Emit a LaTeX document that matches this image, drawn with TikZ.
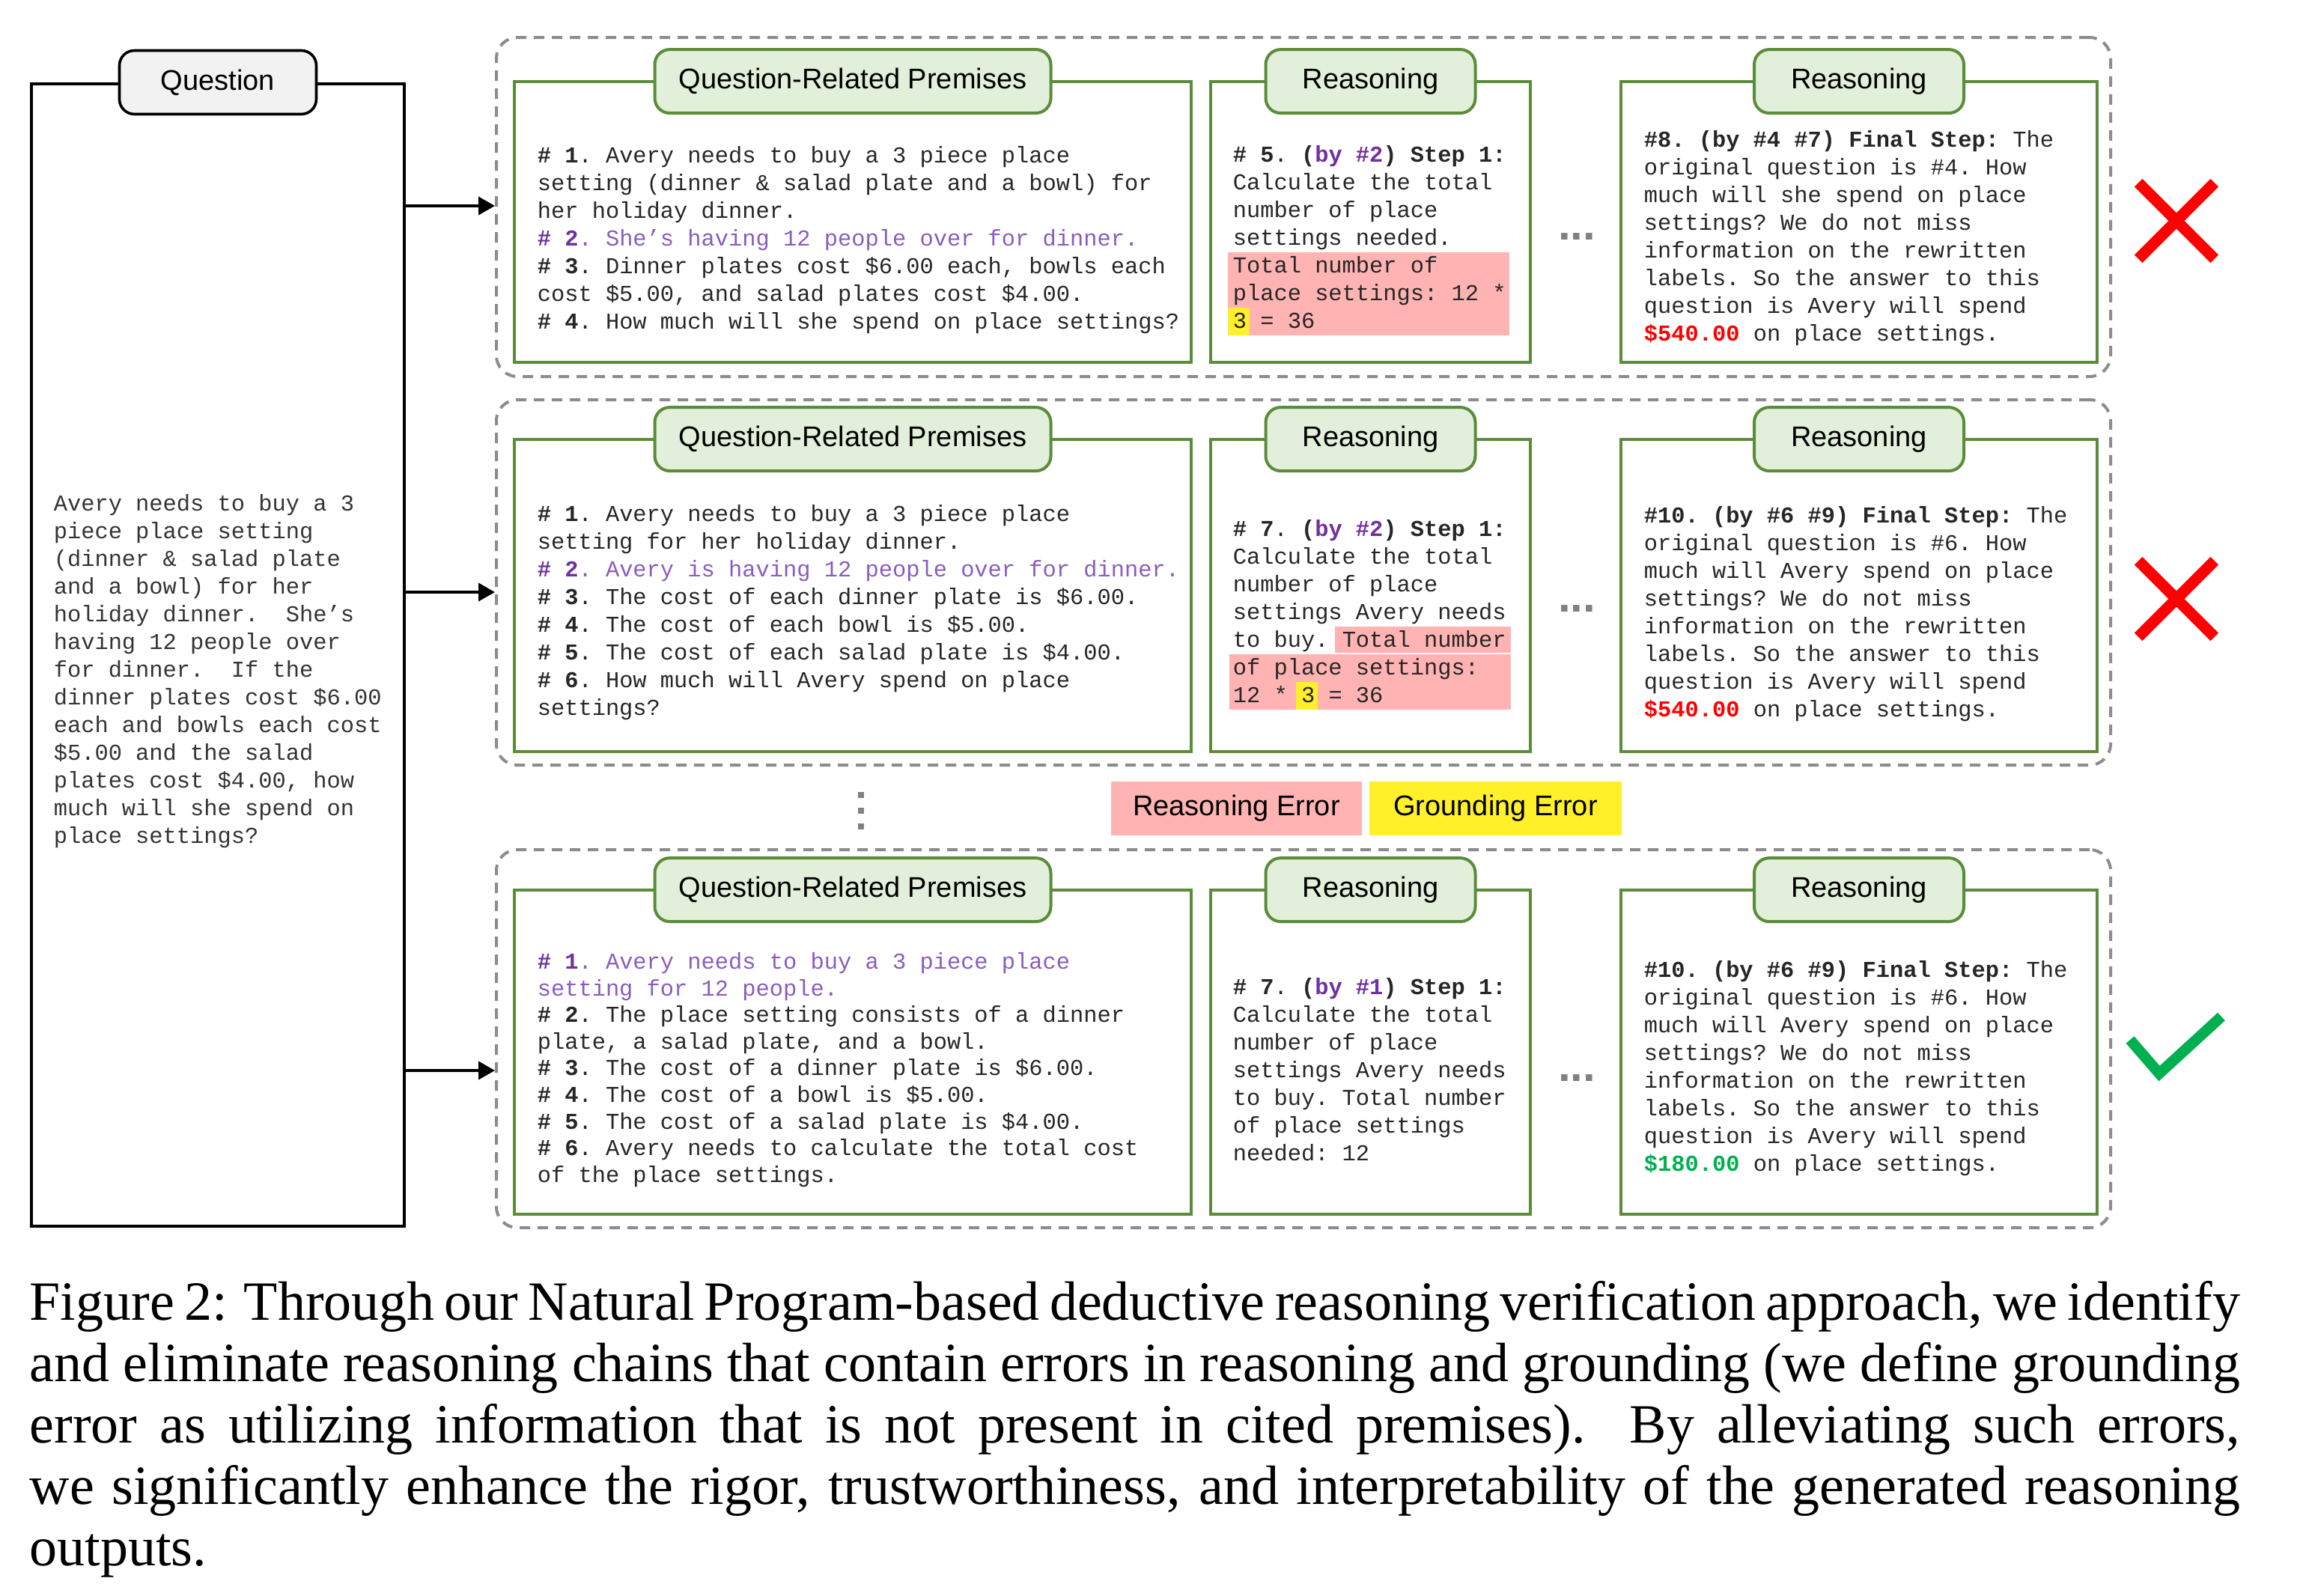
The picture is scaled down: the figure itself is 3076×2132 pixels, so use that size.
\documentclass[tikz,border=0pt]{standalone}
\usepackage{fontspec}
\setmainfont{Liberation Serif}
\setsansfont{Liberation Sans}
\setmonofont{Liberation Mono}
\usetikzlibrary{arrows.meta,calc}
\definecolor{grn}{HTML}{5B8C3A}
\definecolor{grnfill}{HTML}{E2EFDA}
\definecolor{qfill}{HTML}{F2F2F2}
\definecolor{dashgray}{HTML}{8C8C8C}
\definecolor{pinkhl}{HTML}{FFB3B3}
\definecolor{yelhl}{HTML}{FFF02A}
\definecolor{purp}{HTML}{7030A0}
\definecolor{purpl}{HTML}{8A5CBE}
\definecolor{okgreen}{HTML}{00B050}
\definecolor{badred}{HTML}{FF0000}
\definecolor{dotgray}{HTML}{808080}
\newcommand{\hlpink}[4]{\makebox[0pt][l]{\hspace*{#1}\textcolor{pinkhl}{\rule[#4]{#2}{#3}}}}
\newcommand{\hlyel}[1]{\makebox[0pt][l]{\hspace*{#1}\textcolor{yelhl}{\rule[-2.5pt]{7.25pt}{9.25pt}}}}
\newcommand{\pnum}[1]{\textbf{\#~#1}}
\newcommand{\byref}[1]{\textbf{(\textcolor{purp}{by \##1})}}
\newcommand{\bodyfont}{\ttfamily\fontsize{7.6pt}{9.25pt}\selectfont\lineskiplimit=-10pt\relax}
\newcommand{\bodyfonttight}{\ttfamily\fontsize{7.6pt}{8.9pt}\selectfont\lineskiplimit=-10pt\relax}
\newcommand{\labfont}{\sffamily\fontsize{9.5pt}{11pt}\selectfont}
\begin{document}
\begin{tikzpicture}[x=0.25pt, y=-0.25pt,
  grp/.style={draw=dashgray, line width=1pt, dash pattern=on 3.5pt off 2.5pt, rounded corners=7pt, inner sep=0},
  panel/.style={draw=grn, line width=1pt, inner sep=0},
  glabel/.style={draw=grn, fill=grnfill, line width=1pt, rounded corners=5pt, font=\labfont, minimum height=21.25pt, inner sep=0},
  qlabel/.style={draw=black, fill=qfill, line width=0.9pt, rounded corners=5pt, font=\labfont, minimum height=21.25pt, minimum width=65.75pt, inner sep=0},
  body/.style={anchor=west, align=left, inner sep=0, font=\bodyfont, text=black!85},
  arr/.style={line width=1pt, -{Triangle[length=5.5pt,width=6pt]}},
  legend/.style={font=\labfont, minimum height=18pt, inner sep=0},
  ellip/.style={font=\sffamily\bfseries\fontsize{15pt}{15pt}\selectfont, text=dotgray, inner sep=0},
  cross/.style={draw=badred, line width=3.75pt},
  tick/.style={draw=okgreen, line width=3.6pt, line join=miter}
]
\useasboundingbox (0,0) rectangle (3076,2132);

% Question box
\node[draw=black, line width=1pt, minimum width=124.5pt, minimum height=381.5pt, inner sep=0] (qbox) at (291,875) {};
\node[qlabel] (qlab) at (qbox.north) {Question};
\node[body, text=black!80] (qtxt) at (71,897) {Avery needs to buy a 3\\
piece place setting\\
(dinner \& salad plate\\
and a bowl) for her\\
holiday dinner.~~She’s\\
having 12 people over\\
for dinner.~~If the\\
dinner plates cost \$6.00\\
each and bowls each cost\\
\$5.00 and the salad\\
plates cost \$4.00, how\\
much will she spend on\\
place settings?};

% Groups
\node[grp, minimum width=539pt, minimum height=113.25pt] (g1) at (1741,276.5) {};
\node[grp, minimum width=539pt, minimum height=122pt] (g2) at (1741,778) {};
\node[grp, minimum width=539pt, minimum height=126.25pt] (g3) at (1741,1387.5) {};

% Arrows
\coordinate (a1) at (600,275);
\coordinate (a2) at (600,791);
\coordinate (a3) at (600,1430);
\draw[arr] (qbox.east |- a1) -- (g1.west |- a1);
\draw[arr] (qbox.east |- a2) -- (g2.west |- a2);
\draw[arr] (qbox.east |- a3) -- (g3.west |- a3);

% ---------- Group 1 ----------
\node[panel, minimum width=226pt, minimum height=93.75pt] (g1p) at (1139,296.5) {};
\node[panel, minimum width=106.75pt, minimum height=93.75pt] (g1r) at (1830.5,296.5) {};
\node[panel, minimum width=159pt, minimum height=93.75pt] (g1f) at (2483,296.5) {};
\node[glabel, minimum width=132.25pt] (g1pl) at ([yshift=-0.4pt]g1p.north) {Question-Related Premises};
\node[glabel, minimum width=70pt] (g1rl) at ([yshift=-0.4pt]g1r.north) {Reasoning};
\node[glabel, minimum width=70pt] (g1fl) at ([yshift=-0.4pt]g1f.north) {Reasoning};
\node[body] (g1pt) at (717,321) {\pnum{1}. Avery needs to buy a 3 piece place\\
setting (dinner \& salad plate and a bowl) for\\
her holiday dinner.\\
\textcolor{purp}{\pnum{2}}\textcolor{purpl}{. She’s having 12 people over for dinner.}\\
\pnum{3}. Dinner plates cost \$6.00 each, bowls each\\
cost \$5.00, and salad plates cost \$4.00.\\
\pnum{4}. How much will she spend on place settings?};
\node[body] (g1rt) at (1646,321) {\pnum{5}. \byref{2} \textbf{Step 1:}\\
Calculate the total\\
number of place\\
settings needed.\\
\hlpink{-1.75pt}{94pt}{9.25pt}{-2.5pt}Total number of\\
\hlpink{-1.75pt}{94pt}{9.25pt}{-2.5pt}place settings: 12 *\\
\hlpink{-1.75pt}{94pt}{9.25pt}{-2.5pt}\hlyel{-1.75pt}3 = 36};
\node[body] (g1ft) at (2195,318) {\textbf{\#8. (by \#4 \#7) Final Step:} The\\
original question is \#4. How\\
much will she spend on place\\
settings? We do not miss\\
information on the rewritten\\
labels. So the answer to this\\
question is Avery will spend\\
\textcolor{badred}{\textbf{\$540.00}} on place settings.};
\node[ellip] (g1dots) at (2106,316) {...};

% ---------- Group 2 ----------
\node[panel, minimum width=226pt, minimum height=104.25pt] (g2p) at (1139,795.5) {};
\node[panel, minimum width=106.75pt, minimum height=104.25pt] (g2r) at (1830.5,795.5) {};
\node[panel, minimum width=159pt, minimum height=104.25pt] (g2f) at (2483,795.5) {};
\node[glabel, minimum width=132.25pt] (g2pl) at ([yshift=-0.4pt]g2p.north) {Question-Related Premises};
\node[glabel, minimum width=70pt] (g2rl) at ([yshift=-0.4pt]g2r.north) {Reasoning};
\node[glabel, minimum width=70pt] (g2fl) at ([yshift=-0.4pt]g2f.north) {Reasoning};
\node[body] (g2pt) at (717,818) {\pnum{1}. Avery needs to buy a 3 piece place\\
setting for her holiday dinner.\\
\textcolor{purp}{\pnum{2}}\textcolor{purpl}{. Avery is having 12 people over for dinner.}\\
\pnum{3}. The cost of each dinner plate is \$6.00.\\
\pnum{4}. The cost of each bowl is \$5.00.\\
\pnum{5}. The cost of each salad plate is \$4.00.\\
\pnum{6}. How much will Avery spend on place\\
settings?};
\node[body] (g2rt) at (1646,821) {\pnum{7}. \byref{2} \textbf{Step 1:}\\
Calculate the total\\
number of place\\
settings Avery needs\\
to buy. \hlpink{-2.5pt}{58.75pt}{8.75pt}{-2pt}Total number\\
\hlpink{-1.25pt}{94pt}{9.25pt}{-2.5pt}of place settings:\\
\hlpink{-1.25pt}{94pt}{9.25pt}{-2.5pt}12 * \hlyel{-1.75pt}3 = 36};
\node[body] (g2ft) at (2195,820) {\textbf{\#10. (by \#6 \#9) Final Step:} The\\
original question is \#6. How\\
much will Avery spend on place\\
settings? We do not miss\\
information on the rewritten\\
labels. So the answer to this\\
question is Avery will spend\\
\textcolor{badred}{\textbf{\$540.00}} on place settings.};
\node[ellip] (g2dots) at (2106,813) {...};

% ---------- Legend ----------
\node[legend, fill=pinkhl, minimum width=83.75pt] (lgr) at (1651.5,1080) {Reasoning Error};
\node[legend, fill=yelhl, minimum width=84.25pt] (lgg) at (1997.5,1080) {Grounding Error};
\draw[dotgray, line width=2pt, dash pattern=on 2pt off 3.25pt] (1150,1058) -- (1150,1110);

% ---------- Group 3 ----------
\node[panel, minimum width=226pt, minimum height=108.25pt] (g3p) at (1139,1405.5) {};
\node[panel, minimum width=106.75pt, minimum height=108.25pt] (g3r) at (1830.5,1405.5) {};
\node[panel, minimum width=159pt, minimum height=108.25pt] (g3f) at (2483,1405.5) {};
\node[glabel, minimum width=132.25pt] (g3pl) at ([yshift=-0.4pt]g3p.north) {Question-Related Premises};
\node[glabel, minimum width=70pt] (g3rl) at ([yshift=-0.4pt]g3r.north) {Reasoning};
\node[glabel, minimum width=70pt] (g3fl) at ([yshift=-0.4pt]g3f.north) {Reasoning};
\node[body, font=\bodyfonttight] (g3pt) at (717,1429) {\textcolor{purp}{\pnum{1}}\textcolor{purpl}{. Avery needs to buy a 3 piece place}\\
\textcolor{purpl}{setting for 12 people.}\\
\pnum{2}. The place setting consists of a dinner\\
plate, a salad plate, and a bowl.\\
\pnum{3}. The cost of a dinner plate is \$6.00.\\
\pnum{4}. The cost of a bowl is \$5.00.\\
\pnum{5}. The cost of a salad plate is \$4.00.\\
\pnum{6}. Avery needs to calculate the total cost\\
of the place settings.};
\node[body] (g3rt) at (1646,1429) {\pnum{7}. \byref{1} \textbf{Step 1:}\\
Calculate the total\\
number of place\\
settings Avery needs\\
to buy. Total number\\
of place settings\\
needed: 12};
\node[body] (g3ft) at (2195,1427) {\textbf{\#10. (by \#6 \#9) Final Step:} The\\
original question is \#6. How\\
much will Avery spend on place\\
settings? We do not miss\\
information on the rewritten\\
labels. So the answer to this\\
question is Avery will spend\\
\textcolor{okgreen}{\textbf{\$180.00}} on place settings.};
\node[ellip] (g3dots) at (2106,1440) {...};

% ---------- Marks ----------
\node[inner sep=0, minimum size=25pt] (x1) at (2907,295) {};
\draw[cross] (x1.north west) -- (x1.south east) (x1.north east) -- (x1.south west);
\node[inner sep=0, minimum size=25pt] (x2) at (2907,800) {};
\draw[cross] (x2.north west) -- (x2.south east) (x2.north east) -- (x2.south west);
\draw[tick] (2845,1389) -- (2884,1434) -- (2967,1358);

% ---------- Caption ----------
\node[anchor=north west, inner sep=0, text width=738pt, align=justify,
      font=\rmfamily\fontsize{18.5pt}{20.5pt}\selectfont] (cap) at (39,1711)
{\hyphenpenalty=10000 Figure 2: Through our Natural Program-based deductive reasoning verification approach, we identify\linebreak
and eliminate reasoning chains that contain errors in reasoning and grounding (we define grounding\linebreak
error as utilizing information that is not present in cited premises).  By alleviating such errors,\linebreak
we significantly enhance the rigor, trustworthiness, and interpretability of the generated reasoning\linebreak
outputs.};
\end{tikzpicture}
\end{document}
